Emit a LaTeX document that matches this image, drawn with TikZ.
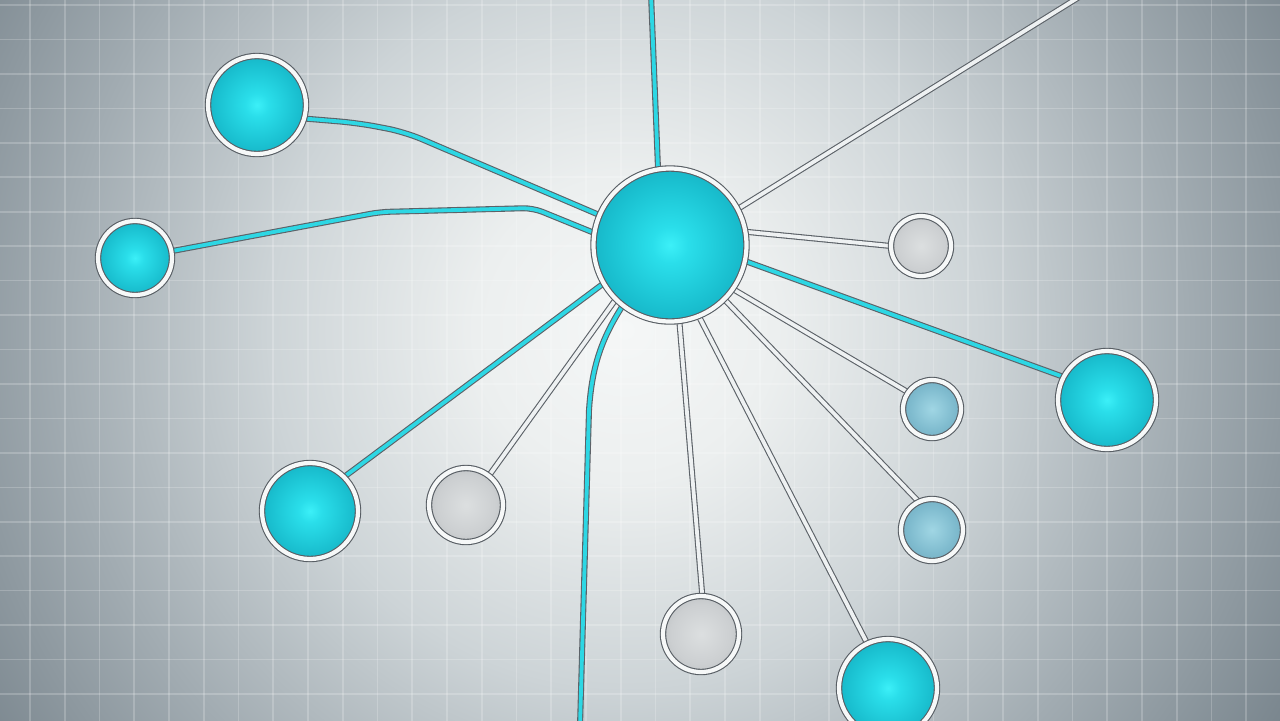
\documentclass[tikz,border=0pt]{standalone}
\definecolor{ringdark}{RGB}{88,94,100}
\definecolor{ringwhite}{RGB}{246,248,248}
\definecolor{linecyan}{RGB}{45,215,228}
\definecolor{linelight}{RGB}{238,241,242}
\definecolor{linedark}{RGB}{92,98,104}
\definecolor{bgbase}{RGB}{78,90,99}
\definecolor{bg0}{RGB}{245,247,247}
\definecolor{bg1}{RGB}{236,239,239}
\definecolor{bg2}{RGB}{205,212,215}
\definecolor{bg3}{RGB}{162,172,178}
\definecolor{bg4}{RGB}{122,134,142}
\definecolor{bg5}{RGB}{96,108,117}
\definecolor{cyhi}{RGB}{60,240,248}
\definecolor{cyhi2}{RGB}{42,222,234}
\definecolor{cymid}{RGB}{26,192,208}
\definecolor{cyedge}{RGB}{18,160,180}
\definecolor{blhi}{RGB}{160,214,228}
\definecolor{blmid}{RGB}{128,188,207}
\definecolor{bledge}{RGB}{104,164,186}
\definecolor{grhi}{RGB}{220,223,224}
\definecolor{grmid}{RGB}{204,207,209}
\definecolor{gredge}{RGB}{178,182,185}
% 50bp corresponds to sqrt(2) times the path radius; the path edge is at about 35bp
\pgfdeclareradialshading{shBg}{\pgfpoint{0bp}{0bp}}{color(0bp)=(bg0); color(4.2bp)=(bg1); color(9.9bp)=(bg2); color(15.6bp)=(bg3); color(21.2bp)=(bg4); color(26.9bp)=(bg5); color(35.4bp)=(bgbase); color(50bp)=(bgbase)}
\pgfdeclareradialshading{shCyan}{\pgfpoint{0bp}{0bp}}{color(0bp)=(cyhi); color(6bp)=(cyhi2); color(21bp)=(cymid); color(35.4bp)=(cyedge); color(50bp)=(cyedge)}
\pgfdeclareradialshading{shBlue}{\pgfpoint{0bp}{0bp}}{color(0bp)=(blhi); color(18bp)=(blmid); color(35.4bp)=(bledge); color(50bp)=(bledge)}
\pgfdeclareradialshading{shGray}{\pgfpoint{0bp}{0bp}}{color(0bp)=(grhi); color(20bp)=(grmid); color(35.4bp)=(gredge); color(50bp)=(gredge)}
\pgfdeclarelayer{back}
\pgfdeclarelayer{edges}
\pgfsetlayers{back,edges,main}
\tikzset{
  ball/.style={circle, inner sep=0pt, outer sep=0pt, minimum size=#1,
    draw=ringdark, line width=0.55pt, double=ringwhite, double distance=2.1pt},
  cyanball/.style={ball=#1, shading=shCyan},
  blueball/.style={ball=#1, shading=shBlue},
  hollowball/.style={ball=#1, shading=shGray},
  cyanlink/.style={draw=linedark, line width=0.55pt, double=linecyan, double distance=1.9pt},
  graylink/.style={draw=linedark, line width=0.55pt, double=linelight, double distance=1.9pt},
  gridline/.style={white, opacity=0.2, line width=0.8pt}
}
\begin{document}
\begin{tikzpicture}[x=0.5pt,y=-0.5pt]
\useasboundingbox (0,0) rectangle (1280,720);
\begin{pgfonlayer}{back}
  \fill[bgbase] (0,0) rectangle (1280,720);
  \begin{scope}
    \clip (0,0) rectangle (1280,720);
    \shade[shading=shBg] (625,330) circle[radius=450pt];
    \foreach \i in {0,...,36} \draw[gridline] ({30+34.75*\i},-2) -- ({30+34.75*\i},722);
    \foreach \j in {0,...,20} \draw[gridline] (-2,{5+34.45*\j}) -- (1282,{5+34.45*\j});
  \end{scope}
\end{pgfonlayer}

% nodes
\node[cyanball=76.5pt] (C) at (670,245) {};
\node[cyanball=49pt] (A) at (257,105) {};
\node[cyanball=37pt] (B) at (135,258) {};
\node[cyanball=48pt] (D) at (310,511) {};
\node[hollowball=37pt] (E) at (466,505) {};
\node[hollowball=38pt] (F) at (701,634) {};
\node[cyanball=49pt] (G) at (888,688) {};
\node[blueball=29pt] (H) at (932,409) {};
\node[blueball=31pt] (I) at (932,530) {};
\node[hollowball=30pt] (J) at (921,246) {};
\node[cyanball=49pt] (K) at (1107,400) {};
\coordinate (topend) at (651,-6);
\coordinate (trend) at (1084,-6);
\coordinate (botend) at (580,726);

% connectors
\begin{pgfonlayer}{edges}
  \draw[cyanlink] (topend) -- (C.99);
  \draw[graylink] (C.28) -- (trend);
  \draw[cyanlink, rounded corners=9pt] (C.157) -- (405,132) -- (358,123) -- (A.-16);
  \draw[cyanlink, rounded corners=5pt] (C.171) -- (533,208) -- (380,212) -- (B);
  \draw[cyanlink] (C.-150) -- (D.45);
  \draw[graylink] (C.225) -- (E.52);
  \draw[cyanlink] (C.-128) .. controls (602,338) and (592,365) .. (589,410) -- (botend);
  \draw[graylink] (C.-83) -- (F.88);
  \draw[graylink] (C.-68) -- (G.115);
  \draw[graylink] (C.-45) -- (I.115);
  \draw[graylink] (C.-35) -- (H.145);
  \draw[cyanlink] (C.-12) -- (K.152);
  \draw[graylink] (C.10) -- (J.180);
\end{pgfonlayer}
\end{tikzpicture}
\end{document}
